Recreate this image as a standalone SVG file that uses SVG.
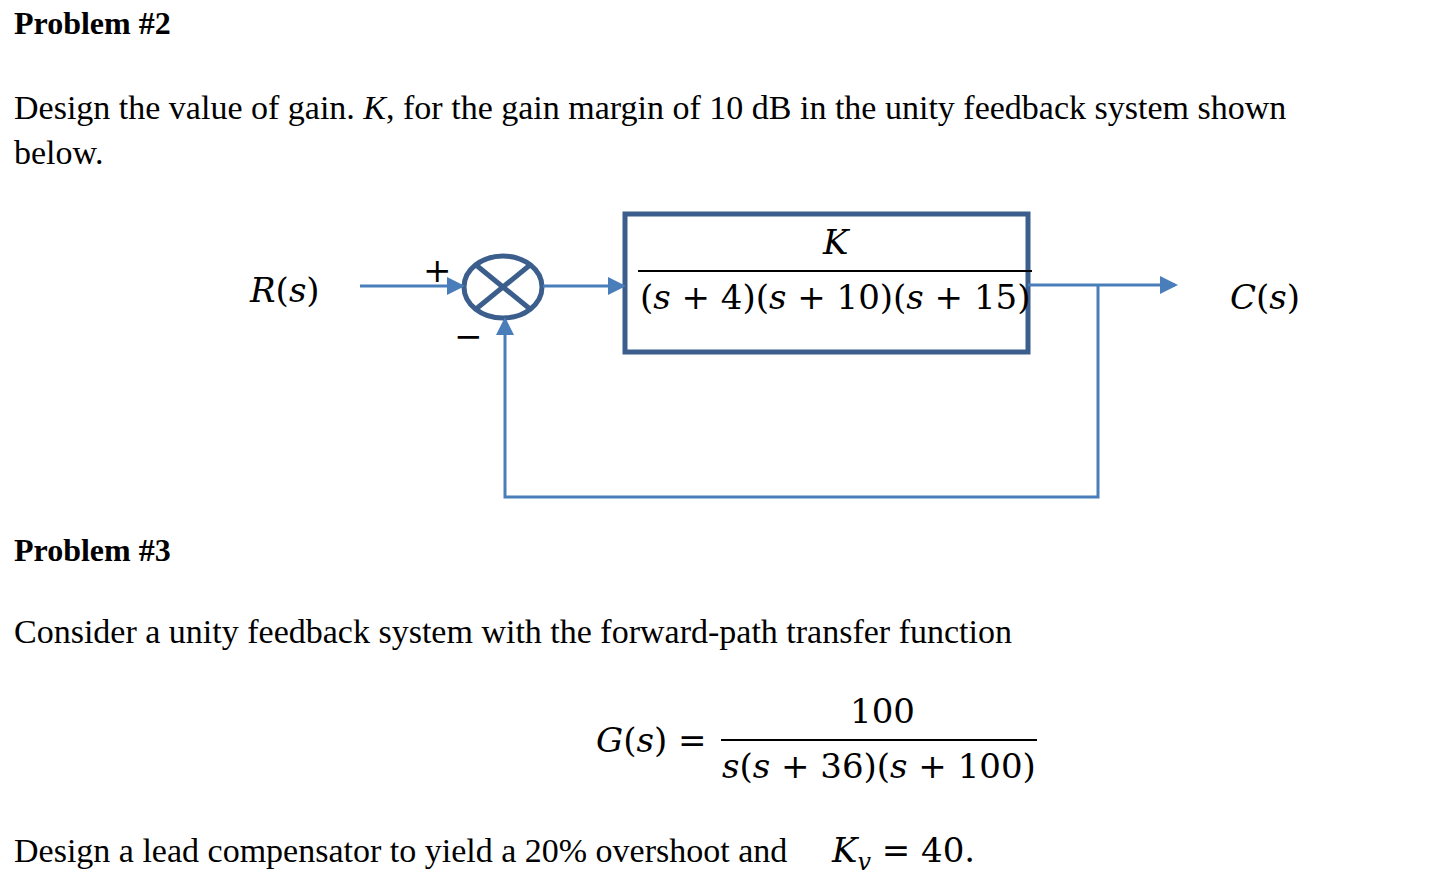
<svg xmlns="http://www.w3.org/2000/svg" width="1450" height="896" viewBox="0 0 1450 896">
<style>
.t{font-family:"Liberation Serif",serif;font-size:34px;fill:#000}
.b{font-weight:bold;font-size:32px}
.m{font-family:"DejaVu Serif","Liberation Serif",serif;font-size:34px;fill:#000}
.i{font-style:italic}
.w{stroke:#4A7EBB;stroke-width:3;fill:none}
.k{stroke:#3B5E8C;stroke-width:5;fill:none}
</style>
<defs><marker id="a" markerWidth="6" markerHeight="6" refX="5" refY="3" orient="auto" markerUnits="strokeWidth"><path d="M0,0L6,3L0,6z" fill="#4A7EBB"/></marker></defs>
<rect width="1450" height="896" fill="#fff"/>
<text class="t b" x="14" y="34">Problem #2</text>
<text class="t" x="14" y="119">Design the value of gain. <tspan class="i">K</tspan>, for the gain margin of 10 dB in the unity feedback system shown</text>
<text class="t" x="14" y="164">below.</text>
<g id="R"><text class="m" x="250" y="302"><tspan class="i">R</tspan>(<tspan class="i">s</tspan>)</text></g>
<g id="sum">
<ellipse class="k" cx="503" cy="287" rx="39" ry="31"/>
<line class="k" x1="476" y1="265" x2="530" y2="309"/><line class="k" x1="530" y1="265" x2="476" y2="309"/>
<text class="m" x="423" y="282" font-size="40">+</text>
<text class="m" x="454" y="348">−</text>
</g>
<g id="G">
<rect class="k" x="625" y="214" width="403" height="138"/>
<text class="m i" x="823" y="254">K</text>
<line x1="638" y1="271" x2="1032" y2="271" stroke="#000" stroke-width="2"/>
<text class="m" x="640" y="309">(<tspan class="i">s</tspan> + 4)(<tspan class="i">s</tspan> + 10)(<tspan class="i">s</tspan> + 15)</text>
</g>
<g id="C"><text class="m" x="1230" y="309"><tspan class="i">C</tspan>(<tspan class="i">s</tspan>)</text></g>
<g id="connectors">
<line class="w" x1="360" y1="286" x2="462" y2="286" marker-end="url(#a)"/>
<line class="w" x1="543" y1="286" x2="623" y2="286" marker-end="url(#a)"/>
<line class="w" x1="1028" y1="285" x2="1175" y2="285" marker-end="url(#a)"/>
<polyline class="w" points="1098,285 1098,497 505,497 505,320" marker-end="url(#a)"/>
</g>
<text class="t b" x="14" y="561">Problem #3</text>
<text class="t" x="14" y="643">Consider a unity feedback system with the forward-path transfer function</text>
<text class="m" x="596" y="752"><tspan class="i">G</tspan>(<tspan class="i">s</tspan>) =</text>
<text class="m" x="850" y="723">100</text>
<line x1="721" y1="740" x2="1037" y2="740" stroke="#000" stroke-width="2"/>
<text class="m" x="722" y="778"><tspan class="i">s</tspan>(<tspan class="i">s</tspan> + 36)(<tspan class="i">s</tspan> + 100)</text>
<text class="t" x="14" y="862">Design a lead compensator to yield a 20% overshoot and</text>
<text class="m" x="832" y="862"><tspan class="i">K</tspan><tspan class="i" font-size="24" dy="8">v</tspan><tspan dy="-8"> = 40.</tspan></text>
</svg>
